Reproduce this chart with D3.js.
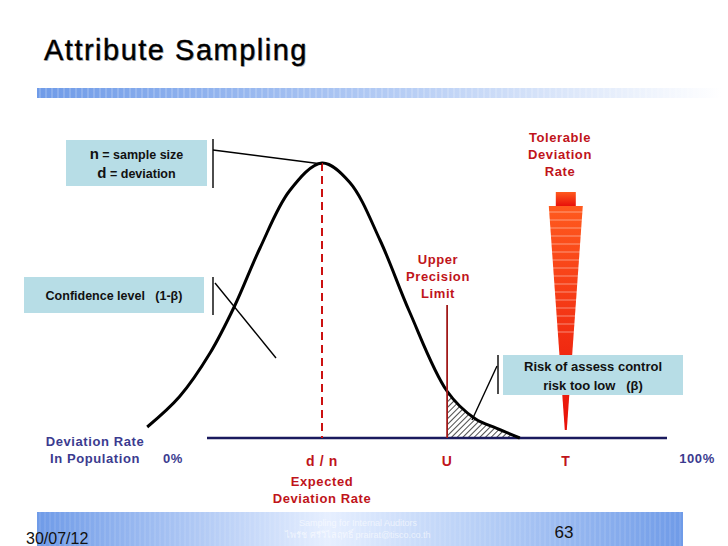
<!DOCTYPE html>
<html><head><meta charset="utf-8">
<script src="https://cdn.jsdelivr.net/npm/d3@7"></script>
<style>body{margin:0;background:#fff}text{font-family:"Liberation Sans",Arial,sans-serif;white-space:pre}</style>
</head><body>
<script>
// curve of the sampling distribution: deviation rate (%) vs relative density
const curveX = [-13, -6, 0.7, 6, 11.5, 18, 25, 31, 37.6, 44, 52.2, 58.3, 63, 68];
const curveY = [0.04, 0.15, 0.31, 0.48, 0.69, 0.9, 1, 0.93, 0.72, 0.46, 0.17, 0.07, 0.035, 0];
const markers = [
  {key: "d / n", value: 25},
  {key: "U", value: 52.2},
  {key: "T", value: 78}
];

const W = 728, H = 546;
const svg = d3.select("body").append("svg").attr("width", W).attr("height", H);
const x = d3.scaleLinear().domain([0, 100]).range([207, 667]);
const y = d3.scaleLinear().domain([0, 1]).range([438, 163]);
const pts = curveX.map((v, i) => [v, curveY[i]]);

const defs = svg.append("defs");
const hg = defs.append("linearGradient").attr("id", "hg");
hg.append("stop").attr("offset", 0).attr("stop-color", "#6f9be8");
hg.append("stop").attr("offset", 0.55).attr("stop-color", "#b9cff5");
hg.append("stop").attr("offset", 1).attr("stop-color", "#ffffff");
const fg = defs.append("linearGradient").attr("id", "fg");
fg.append("stop").attr("offset", 0).attr("stop-color", "#6f9be8");
fg.append("stop").attr("offset", 0.45).attr("stop-color", "#e6efff");
fg.append("stop").attr("offset", 0.7).attr("stop-color", "#b4cdf6");
fg.append("stop").attr("offset", 1).attr("stop-color", "#6f9be8");
const rg = defs.append("linearGradient").attr("id", "rg").attr("x2", 0).attr("y2", 1);
rg.append("stop").attr("offset", 0).attr("stop-color", "#ff5a1e");
rg.append("stop").attr("offset", 1).attr("stop-color", "#e8100a");
const pat = defs.append("pattern").attr("id", "hatch").attr("width", 4).attr("height", 4)
  .attr("patternUnits", "userSpaceOnUse").attr("patternTransform", "rotate(45)");
pat.append("line").attr("x1", 0).attr("y1", 0).attr("x2", 0).attr("y2", 4).attr("stroke", "#000").attr("stroke-width", 1.4);

// title + header band
svg.append("text").attr("x", 45).attr("y", 61).attr("font-size", 29).attr("letter-spacing", 1.5)
  .attr("fill", "#bbb").text("Attribute Sampling");
svg.append("text").attr("x", 44).attr("y", 60).attr("font-size", 29).attr("letter-spacing", 1.5)
  .attr("fill", "#000").attr("stroke", "#000").attr("stroke-width", 0.4).text("Attribute Sampling");
svg.append("rect").attr("x", 37).attr("y", 88).attr("width", 684).attr("height", 10).attr("fill", "url(#hg)");
svg.append("g").selectAll("line").data(d3.range(40, 720, 6)).join("line")
  .attr("x1", d => d).attr("x2", d => d).attr("y1", 88).attr("y2", 98)
  .attr("stroke", "#fff").attr("stroke-opacity", 0.35);

// footer band
svg.append("rect").attr("x", 37).attr("y", 512).attr("width", 646).attr("height", 34).attr("fill", "url(#fg)");
svg.append("g").selectAll("line").data(d3.range(40, 683, 5)).join("line")
  .attr("x1", d => d).attr("x2", d => d).attr("y1", 512).attr("y2", 546)
  .attr("stroke", "#fff").attr("stroke-opacity", 0.18);
svg.append("text").attr("x", 358).attr("y", 526).attr("text-anchor", "middle").attr("font-size", 9).attr("fill", "#fff").attr("opacity", 0.6).text("Sampling for Internal Auditors");
svg.append("text").attr("x", 358).attr("y", 538).attr("text-anchor", "middle").attr("font-size", 9).attr("fill", "#fff").attr("opacity", 0.6).text("ไพรัช ศรีวิไลฤทธิ์ prairat@tisco.co.th");
svg.append("text").attr("x", 564).attr("y", 538).attr("text-anchor", "middle").attr("font-size", 17).attr("fill", "#111").text("63");
svg.append("text").attr("x", 26).attr("y", 544).attr("font-size", 16).attr("fill", "#111").text("30/07/12");

// hatched tail beyond U
const tail = pts.filter(p => p[0] >= 44);
const area = d3.area().x(d => x(d[0])).y0(y(0)).y1(d => y(d[1])).curve(d3.curveMonotoneX);
svg.append("clipPath").attr("id", "tc").append("rect")
  .attr("x", x(52.2)).attr("y", 0).attr("width", 200).attr("height", y(0));
svg.append("path").datum(tail).attr("d", area).attr("fill", "url(#hatch)").attr("clip-path", "url(#tc)");

// axis line
svg.append("line").attr("x1", x(0)).attr("x2", x(100)).attr("y1", y(0)).attr("y2", y(0))
  .attr("stroke", "#1a1a5e").attr("stroke-width", 2.5);

// tolerable spike
const tx = x(78);
const sp = svg.append("g");
sp.append("rect").attr("x", tx - 10).attr("y", 192).attr("width", 20).attr("height", 14).attr("fill", "url(#rg)");
sp.append("path").attr("d", `M${tx - 17},206 L${tx + 17},206 L${tx + 1},430 L${tx - 1},430 Z`).attr("fill", "url(#rg)");
sp.selectAll("line").data(d3.range(212, 340, 8)).join("line")
  .attr("x1", tx - 20).attr("x2", tx + 20).attr("y1", d => d).attr("y2", d => d)
  .attr("stroke", "#fff").attr("stroke-opacity", 0.55).attr("stroke-width", 0.8);

// curve
svg.append("path").datum(pts)
  .attr("d", d3.line().x(d => x(d[0])).y(d => y(d[1])).curve(d3.curveCatmullRom))
  .attr("fill", "none").attr("stroke", "#000").attr("stroke-width", 3);

// d/n dashed and U line
svg.append("line").attr("x1", x(25)).attr("x2", x(25)).attr("y1", y(1)).attr("y2", y(0))
  .attr("stroke", "#cc1111").attr("stroke-width", 2).attr("stroke-dasharray", "8,5");
svg.append("line").attr("x1", x(52.2)).attr("x2", x(52.2)).attr("y1", 305).attr("y2", y(0))
  .attr("stroke", "#a01818").attr("stroke-width", 1.8);

// callout boxes
function box(bx, by, bw, bh, lines, fs) {
  svg.append("rect").attr("x", bx).attr("y", by).attr("width", bw).attr("height", bh).attr("fill", "#b7dde6");
  lines.forEach((l, i) => {
    const t = svg.append("text").attr("x", bx + bw / 2).attr("y", by + bh / 2 + (i - (lines.length - 1) / 2) * 19 + 5)
      .attr("text-anchor", "middle").attr("font-size", fs).attr("font-weight", "bold").attr("fill", "#111");
    l.forEach(s => t.append("tspan").attr("font-size", s[1] || fs).text(s[0]));
  });
}
box(66, 140, 141, 46, [[["n", 15], [" = sample size"]], [["d", 15], [" = deviation"]]], 12.5);
box(24, 277, 180, 36, [[["Confidence level   (1-β)"]]], 12.5);
box(503, 355, 180, 40, [[["Risk of assess control"]], [["risk too low   (β)"]]], 13);
svg.selectAll("path.ln").data([
  [[213, 139], [213, 188]], [[213, 150], [322, 164]],
  [[213, 277], [213, 315]], [[215, 283], [276, 358]],
  [[498, 355], [498, 394]], [[497, 366], [472, 420]]
]).join("path").attr("d", d => d3.line()(d)).attr("stroke", "#000").attr("stroke-width", 1.4).attr("fill", "none");

// labels
function label(lx, ly, lines, col, fs, anchor) {
  lines.forEach((l, i) => svg.append("text").attr("x", lx).attr("y", ly + i * 17)
    .attr("text-anchor", anchor || "middle").attr("font-size", fs).attr("font-weight", "bold")
    .attr("letter-spacing", 0.6).attr("fill", col).text(l));
}
label(560, 142, ["Tolerable", "Deviation", "Rate"], "#c0141a", 13);
label(438, 264, ["Upper", "Precision", "Limit"], "#c0141a", 13);
label(95, 446, ["Deviation Rate", "In Population"], "#3b3b8f", 13);
label(173, 463, ["0%"], "#3b3b8f", 13);
label(697, 463, ["100%"], "#3b3b8f", 13);
markers.forEach(m => label(x(m.value), 466, [m.key], "#c0141a", 14));
label(x(25), 486, ["Expected", "Deviation Rate"], "#c0141a", 13);
</script>
</body></html>
